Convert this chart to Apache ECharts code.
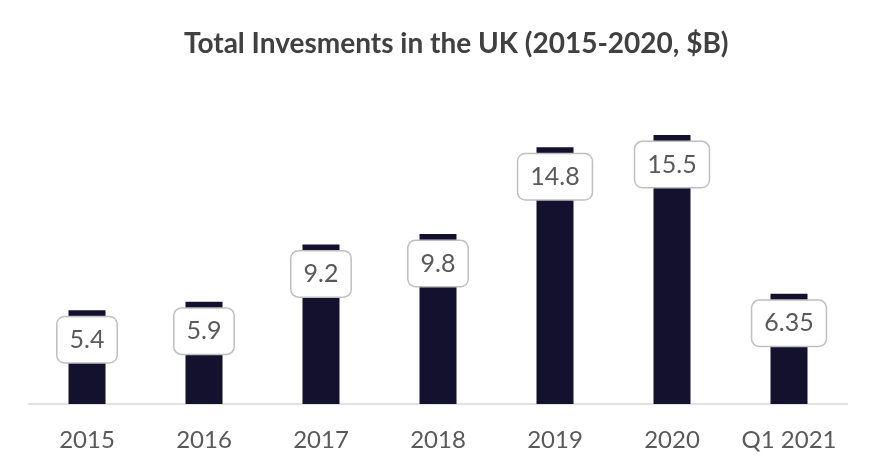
<!DOCTYPE html>
<html><head><meta charset="utf-8">
<script src="https://cdn.jsdelivr.net/npm/echarts@6/dist/echarts.min.js"></script>
<style>html,body{margin:0;padding:0;background:#fff}#c{width:875px;height:474px}</style>
</head><body><div id="c"></div>
<script>
const categories = ['2015','2016','2017','2018','2019','2020','Q1 2021'];
const values = [5.4, 5.9, 9.2, 9.8, 14.8, 15.5, 6.35];
const labelTexts = ['5.4','5.9','9.2','9.8','14.8','15.5','6.35'];
const FONT = 'Lato';
const chart = echarts.init(document.getElementById('c'), null, {renderer:'canvas'});
chart.setOption({
  animation: false,
  title: {
    text: 'Total Invesments in the UK (2015-2020, $B)',
    left: 179, top: 25,
    textStyle: {fontFamily: FONT, fontSize: 28, fontWeight: 'bold', color: '#404040'}
  },
  grid: {left: 28.5, right: 27.5, top: 57, bottom: 70, containLabel: false},
  xAxis: {
    type: 'category', data: categories,
    axisLine: {lineStyle: {color: '#d9d9d9', width: 1.5}},
    axisTick: {show: false},
    axisLabel: {interval: 0, fontFamily: FONT, fontSize: 24, color: '#595959', margin: 24}
  },
  yAxis: {type: 'value', min: 0, max: 20, show: false, splitLine: {show: false}},
  series: [{
    type: 'bar', data: values, barWidth: 37,
    itemStyle: {color: '#14112f'},
    label: {
      show: true, position: 'insideTop', distance: 7,
      formatter: p => labelTexts[p.dataIndex],
      fontFamily: FONT, fontSize: 25, color: '#595959',
      backgroundColor: '#ffffff', borderColor: '#bfbfbf', borderWidth: 1.5, borderRadius: 7,
      padding: [10, 12, 10, 12]
    }
  }]
});
</script></body></html>
